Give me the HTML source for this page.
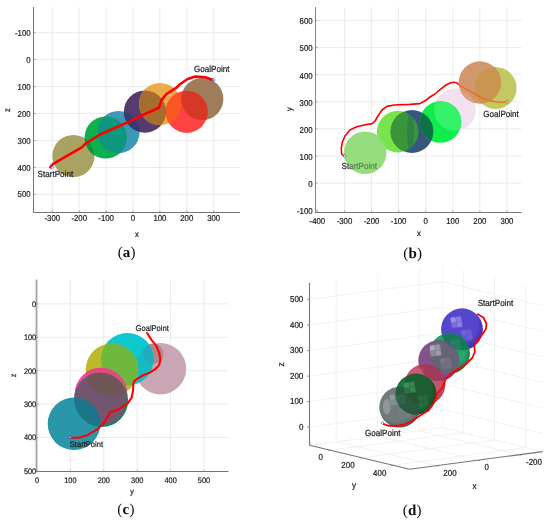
<!DOCTYPE html>
<html lang="en"><head><meta charset="utf-8"><title>Figure</title>
<style>html,body{margin:0;padding:0;background:#fff;}svg{display:block;font-family:"Liberation Sans",sans-serif;text-rendering:geometricPrecision;}</style>
</head><body>
<svg width="550" height="521" viewBox="0 0 550 521">
<defs>
<clipPath id="c1"><circle cx="73.40" cy="156.00" r="21.10"/></clipPath>
<clipPath id="c2"><circle cx="105.70" cy="137.50" r="21.10"/></clipPath>
<clipPath id="c3"><circle cx="118.50" cy="132.10" r="21.10"/></clipPath>
<clipPath id="c4"><circle cx="145.00" cy="111.60" r="21.10"/></clipPath>
<clipPath id="c5"><circle cx="160.00" cy="104.00" r="21.10"/></clipPath>
<clipPath id="c6"><circle cx="202.30" cy="99.00" r="21.10"/></clipPath>
<clipPath id="c7"><circle cx="145.00" cy="111.60" r="21.10"/></clipPath>
<clipPath id="c8"><circle cx="397.70" cy="131.60" r="20.80"/></clipPath>
<clipPath id="c9"><circle cx="397.70" cy="131.60" r="20.80"/></clipPath>
<clipPath id="c10"><circle cx="412.00" cy="131.50" r="21.40" clip-path="url(#c9)"/></clipPath>
<clipPath id="c11"><circle cx="397.70" cy="131.60" r="20.80"/></clipPath>
<clipPath id="c12"><circle cx="412.00" cy="131.50" r="21.40"/></clipPath>
<clipPath id="c13"><circle cx="455.00" cy="109.80" r="21.00"/></clipPath>
<clipPath id="c14"><circle cx="495.60" cy="88.00" r="21.00"/></clipPath>
<clipPath id="c15"><circle cx="455.00" cy="109.80" r="21.00"/></clipPath>
<clipPath id="c16"><circle cx="479.90" cy="82.50" r="21.20"/></clipPath>
<clipPath id="c17"><circle cx="495.60" cy="88.00" r="21.00"/></clipPath>
<clipPath id="c18"><circle cx="365.20" cy="152.80" r="21.30"/></clipPath>
<clipPath id="c19"><circle cx="160.50" cy="368.70" r="25.70"/></clipPath>
<clipPath id="c20"><circle cx="153.20" cy="353.70" r="10.20"/></clipPath>
<clipPath id="c21"><circle cx="127.30" cy="359.20" r="26.30"/></clipPath>
<clipPath id="c22"><circle cx="112.00" cy="369.70" r="26.30"/></clipPath>
<clipPath id="c23"><circle cx="112.00" cy="369.70" r="26.30"/></clipPath>
<clipPath id="c24"><circle cx="100.30" cy="399.00" r="26.30"/></clipPath>
<clipPath id="c25"><circle cx="101.80" cy="400.60" r="26.30"/></clipPath>
<clipPath id="c26"><circle cx="101.00" cy="394.10" r="26.30"/></clipPath>
<filter id="bl" x="-20%" y="-20%" width="140%" height="140%"><feGaussianBlur stdDeviation="0.7"/></filter>
<radialGradient id="g27" cx="0.42" cy="0.38" r="0.64"><stop offset="0" stop-color="rgb(86,68,206)"/><stop offset="0.72" stop-color="rgb(86,68,206)"/><stop offset="1" stop-color="rgb(60,42,172)"/></radialGradient>
<clipPath id="c28"><circle cx="462.00" cy="329.20" r="20.90"/></clipPath>
<clipPath id="c29"><circle cx="462.00" cy="329.20" r="20.90"/></clipPath>
<radialGradient id="g30" cx="0.42" cy="0.38" r="0.64"><stop offset="0" stop-color="rgb(34,164,104)"/><stop offset="0.72" stop-color="rgb(34,164,104)"/><stop offset="1" stop-color="rgb(16,124,78)"/></radialGradient>
<clipPath id="c31"><circle cx="462.00" cy="329.20" r="20.90"/></clipPath>
<clipPath id="c32"><circle cx="449.60" cy="353.50" r="20.30"/></clipPath>
<clipPath id="c33"><circle cx="449.60" cy="353.50" r="20.30"/></clipPath>
<radialGradient id="g34" cx="0.42" cy="0.38" r="0.64"><stop offset="0" stop-color="rgb(132,82,142)"/><stop offset="0.72" stop-color="rgb(132,82,142)"/><stop offset="1" stop-color="rgb(120,72,132)"/></radialGradient>
<clipPath id="c35"><circle cx="449.60" cy="353.50" r="20.30"/></clipPath>
<clipPath id="c36"><circle cx="449.60" cy="353.50" r="20.30"/></clipPath>
<clipPath id="c37"><circle cx="438.80" cy="360.60" r="20.50" clip-path="url(#c36)"/></clipPath>
<clipPath id="c38"><circle cx="449.60" cy="353.50" r="20.30"/></clipPath>
<clipPath id="c39"><circle cx="438.80" cy="360.60" r="20.50" clip-path="url(#c38)"/></clipPath>
<clipPath id="c40"><circle cx="462.00" cy="329.20" r="20.90"/></clipPath>
<radialGradient id="g41" cx="0.42" cy="0.38" r="0.64"><stop offset="0" stop-color="rgb(198,76,102)"/><stop offset="0.72" stop-color="rgb(198,76,102)"/><stop offset="1" stop-color="rgb(172,56,82)"/></radialGradient>
<clipPath id="c42"><circle cx="438.80" cy="360.60" r="20.50"/></clipPath>
<clipPath id="c43"><circle cx="449.60" cy="353.50" r="20.30"/></clipPath>
<clipPath id="c44"><circle cx="425.00" cy="384.30" r="20.40"/></clipPath>
<radialGradient id="g45" cx="0.42" cy="0.38" r="0.64"><stop offset="0" stop-color="rgb(108,118,118)"/><stop offset="0.72" stop-color="rgb(108,118,118)"/><stop offset="1" stop-color="rgb(78,88,88)"/></radialGradient>
<clipPath id="c46"><circle cx="399.70" cy="407.20" r="20.40"/></clipPath>
<clipPath id="c47"><circle cx="399.70" cy="407.20" r="20.40"/></clipPath>
<radialGradient id="g48" cx="0.42" cy="0.38" r="0.64"><stop offset="0" stop-color="rgb(22,112,56)"/><stop offset="0.72" stop-color="rgb(22,112,56)"/><stop offset="1" stop-color="rgb(10,70,36)"/></radialGradient>
<clipPath id="c49"><circle cx="399.70" cy="407.20" r="20.40"/></clipPath>
<clipPath id="c50"><circle cx="425.00" cy="384.30" r="20.40"/></clipPath>
<clipPath id="c51"><circle cx="416.00" cy="394.10" r="20.50"/></clipPath>
<clipPath id="c52"><circle cx="416.00" cy="394.10" r="20.50"/></clipPath>
<clipPath id="c53"><circle cx="399.70" cy="407.20" r="20.40"/></clipPath>
<clipPath id="c54"><circle cx="416.00" cy="394.10" r="20.50" clip-path="url(#c53)"/></clipPath>
<filter id="soft" x="0" y="0" width="100%" height="100%" filterUnits="userSpaceOnUse"><feGaussianBlur stdDeviation="0.32"/></filter>
</defs>
<rect width="550" height="521" fill="#ffffff"/>
<g filter="url(#soft)">
<g id="pa">
<line x1="52.30" y1="7.00" x2="52.30" y2="212.50" stroke="#e6e6e6" stroke-width="0.8" />
<line x1="79.20" y1="7.00" x2="79.20" y2="212.50" stroke="#e6e6e6" stroke-width="0.8" />
<line x1="106.10" y1="7.00" x2="106.10" y2="212.50" stroke="#e6e6e6" stroke-width="0.8" />
<line x1="133.00" y1="7.00" x2="133.00" y2="212.50" stroke="#e6e6e6" stroke-width="0.8" />
<line x1="159.90" y1="7.00" x2="159.90" y2="212.50" stroke="#e6e6e6" stroke-width="0.8" />
<line x1="186.80" y1="7.00" x2="186.80" y2="212.50" stroke="#e6e6e6" stroke-width="0.8" />
<line x1="213.70" y1="7.00" x2="213.70" y2="212.50" stroke="#e6e6e6" stroke-width="0.8" />
<line x1="33.50" y1="32.65" x2="240.00" y2="32.65" stroke="#e6e6e6" stroke-width="0.8" />
<line x1="33.50" y1="59.60" x2="240.00" y2="59.60" stroke="#e6e6e6" stroke-width="0.8" />
<line x1="33.50" y1="86.55" x2="240.00" y2="86.55" stroke="#e6e6e6" stroke-width="0.8" />
<line x1="33.50" y1="113.50" x2="240.00" y2="113.50" stroke="#e6e6e6" stroke-width="0.8" />
<line x1="33.50" y1="140.45" x2="240.00" y2="140.45" stroke="#e6e6e6" stroke-width="0.8" />
<line x1="33.50" y1="167.40" x2="240.00" y2="167.40" stroke="#e6e6e6" stroke-width="0.8" />
<line x1="33.50" y1="194.35" x2="240.00" y2="194.35" stroke="#e6e6e6" stroke-width="0.8" />
<line x1="33.50" y1="7.00" x2="33.50" y2="213.00" stroke="#757575" stroke-width="1.0" />
<line x1="33.00" y1="212.50" x2="240.00" y2="212.50" stroke="#757575" stroke-width="1.0" />
<line x1="52.30" y1="212.50" x2="52.30" y2="210.50" stroke="#757575" stroke-width="0.7" />
<text x="52.30" y="220.70" font-size="8.533000000000001" text-anchor="middle" fill="#1e1e1e" stroke="#1e1e1e" stroke-width="0.22"  textLength="15.63" lengthAdjust="spacingAndGlyphs">-300</text>
<line x1="79.20" y1="212.50" x2="79.20" y2="210.50" stroke="#757575" stroke-width="0.7" />
<text x="79.20" y="220.70" font-size="8.533000000000001" text-anchor="middle" fill="#1e1e1e" stroke="#1e1e1e" stroke-width="0.22"  textLength="15.63" lengthAdjust="spacingAndGlyphs">-200</text>
<line x1="106.10" y1="212.50" x2="106.10" y2="210.50" stroke="#757575" stroke-width="0.7" />
<text x="106.10" y="220.70" font-size="8.533000000000001" text-anchor="middle" fill="#1e1e1e" stroke="#1e1e1e" stroke-width="0.22"  textLength="15.63" lengthAdjust="spacingAndGlyphs">-100</text>
<line x1="133.00" y1="212.50" x2="133.00" y2="210.50" stroke="#757575" stroke-width="0.7" />
<text x="133.00" y="220.70" font-size="8.533000000000001" text-anchor="middle" fill="#1e1e1e" stroke="#1e1e1e" stroke-width="0.22"  textLength="4.34" lengthAdjust="spacingAndGlyphs">0</text>
<line x1="159.90" y1="212.50" x2="159.90" y2="210.50" stroke="#757575" stroke-width="0.7" />
<text x="159.90" y="220.70" font-size="8.533000000000001" text-anchor="middle" fill="#1e1e1e" stroke="#1e1e1e" stroke-width="0.22"  textLength="13.03" lengthAdjust="spacingAndGlyphs">100</text>
<line x1="186.80" y1="212.50" x2="186.80" y2="210.50" stroke="#757575" stroke-width="0.7" />
<text x="186.80" y="220.70" font-size="8.533000000000001" text-anchor="middle" fill="#1e1e1e" stroke="#1e1e1e" stroke-width="0.22"  textLength="13.03" lengthAdjust="spacingAndGlyphs">200</text>
<line x1="213.70" y1="212.50" x2="213.70" y2="210.50" stroke="#757575" stroke-width="0.7" />
<text x="213.70" y="220.70" font-size="8.533000000000001" text-anchor="middle" fill="#1e1e1e" stroke="#1e1e1e" stroke-width="0.22"  textLength="13.03" lengthAdjust="spacingAndGlyphs">300</text>
<line x1="33.50" y1="32.65" x2="35.50" y2="32.65" stroke="#757575" stroke-width="0.7" />
<text x="30.60" y="35.75" font-size="8.533000000000001" text-anchor="end" fill="#1e1e1e" stroke="#1e1e1e" stroke-width="0.22"  textLength="15.63" lengthAdjust="spacingAndGlyphs">-100</text>
<line x1="33.50" y1="59.60" x2="35.50" y2="59.60" stroke="#757575" stroke-width="0.7" />
<text x="30.60" y="62.70" font-size="8.533000000000001" text-anchor="end" fill="#1e1e1e" stroke="#1e1e1e" stroke-width="0.22"  textLength="4.34" lengthAdjust="spacingAndGlyphs">0</text>
<line x1="33.50" y1="86.55" x2="35.50" y2="86.55" stroke="#757575" stroke-width="0.7" />
<text x="30.60" y="89.65" font-size="8.533000000000001" text-anchor="end" fill="#1e1e1e" stroke="#1e1e1e" stroke-width="0.22"  textLength="13.03" lengthAdjust="spacingAndGlyphs">100</text>
<line x1="33.50" y1="113.50" x2="35.50" y2="113.50" stroke="#757575" stroke-width="0.7" />
<text x="30.60" y="116.60" font-size="8.533000000000001" text-anchor="end" fill="#1e1e1e" stroke="#1e1e1e" stroke-width="0.22"  textLength="13.03" lengthAdjust="spacingAndGlyphs">200</text>
<line x1="33.50" y1="140.45" x2="35.50" y2="140.45" stroke="#757575" stroke-width="0.7" />
<text x="30.60" y="143.55" font-size="8.533000000000001" text-anchor="end" fill="#1e1e1e" stroke="#1e1e1e" stroke-width="0.22"  textLength="13.03" lengthAdjust="spacingAndGlyphs">300</text>
<line x1="33.50" y1="167.40" x2="35.50" y2="167.40" stroke="#757575" stroke-width="0.7" />
<text x="30.60" y="170.50" font-size="8.533000000000001" text-anchor="end" fill="#1e1e1e" stroke="#1e1e1e" stroke-width="0.22"  textLength="13.03" lengthAdjust="spacingAndGlyphs">400</text>
<line x1="33.50" y1="194.35" x2="35.50" y2="194.35" stroke="#757575" stroke-width="0.7" />
<text x="30.60" y="197.45" font-size="8.533000000000001" text-anchor="end" fill="#1e1e1e" stroke="#1e1e1e" stroke-width="0.22"  textLength="13.03" lengthAdjust="spacingAndGlyphs">500</text>
<text x="137.00" y="236.91" font-size="8.321000000000002" text-anchor="middle" fill="#1e1e1e" stroke="#1e1e1e" stroke-width="0.22"  textLength="3.81" lengthAdjust="spacingAndGlyphs">x</text>
<text x="8.00" y="110.00" font-size="8.321000000000002" text-anchor="middle" fill="#1e1e1e" stroke="#1e1e1e" stroke-width="0.22" transform="rotate(-90 8.00 110.00)" dy="2.42" textLength="3.81" lengthAdjust="spacingAndGlyphs">z</text>
<circle cx="73.40" cy="156.00" r="21.10" fill="rgb(170,162,98)" fill-opacity="1.0" />
<circle cx="105.70" cy="137.50" r="21.10" fill="rgb(12,176,80)" fill-opacity="1.0" />
<circle cx="105.70" cy="137.50" r="21.10" fill="rgb(10,150,62)" fill-opacity="1.0" clip-path="url(#c1)"/>
<circle cx="118.50" cy="132.10" r="21.10" fill="rgb(62,152,182)" fill-opacity="1.0" />
<circle cx="118.50" cy="132.10" r="21.10" fill="rgb(10,152,125)" fill-opacity="1.0" clip-path="url(#c2)"/>
<circle cx="145.00" cy="111.60" r="21.10" fill="rgb(84,58,110)" fill-opacity="1.0" />
<circle cx="145.00" cy="111.60" r="21.10" fill="rgb(48,62,116)" fill-opacity="1.0" clip-path="url(#c3)"/>
<circle cx="160.00" cy="104.00" r="21.10" fill="rgb(236,170,76)" fill-opacity="1.0" />
<circle cx="160.00" cy="104.00" r="21.10" fill="rgb(165,110,46)" fill-opacity="1.0" clip-path="url(#c4)"/>
<circle cx="202.30" cy="99.00" r="21.10" fill="rgb(160,125,90)" fill-opacity="1.0" />
<circle cx="186.70" cy="111.80" r="21.10" fill="rgb(255,66,66)" fill-opacity="1.0" />
<circle cx="186.70" cy="111.80" r="21.10" fill="rgb(250,88,32)" fill-opacity="1.0" clip-path="url(#c5)"/>
<circle cx="186.70" cy="111.80" r="21.10" fill="rgb(215,56,40)" fill-opacity="1.0" clip-path="url(#c6)"/>
<circle cx="186.70" cy="111.80" r="21.10" fill="rgb(200,50,60)" fill-opacity="1.0" clip-path="url(#c7)"/>
<path d="M50.3,167.3 L52.7,164.2 L81.8,147.3 L85.5,143.6 L100.0,134.5 L129.0,121.8 L140.0,116.4 L145.0,114.0 L158.9,107.8 L161.4,100.3 L166.4,94.0 L176.4,87.7 L180.2,84.0 L187.7,79.0 L195.3,76.6 L205.3,77.2 L212.8,80.0" fill="none" stroke="#ff0000" stroke-width="2.6" stroke-linejoin="round" stroke-linecap="round" />
<circle cx="52.30" cy="167.60" r="1.4" fill="#ffffff" fill-opacity="0.6" stroke="#3344dd" stroke-width="0.6"/>
<circle cx="213.70" cy="79.80" r="1.4" fill="#ffffff" fill-opacity="0.6" stroke="#3344dd" stroke-width="0.6"/>
<text x="37.60" y="177.20" font-size="8.851" text-anchor="start" fill="#1e1e1e" stroke="#1e1e1e" stroke-width="0.22"  textLength="35.57" lengthAdjust="spacingAndGlyphs">StartPoint</text>
<text x="194.00" y="72.00" font-size="8.851" text-anchor="start" fill="#1e1e1e" stroke="#1e1e1e" stroke-width="0.22"  textLength="35.57" lengthAdjust="spacingAndGlyphs">GoalPoint</text>
<text x="126.70" y="257.40" font-family="'Liberation Serif', serif" font-size="15" letter-spacing="0.2" text-anchor="middle" fill="#111">(<tspan font-weight="bold">a</tspan>)</text>
</g>
<g id="pb">
<line x1="344.46" y1="7.00" x2="344.46" y2="212.50" stroke="#e6e6e6" stroke-width="0.8" />
<line x1="371.54" y1="7.00" x2="371.54" y2="212.50" stroke="#e6e6e6" stroke-width="0.8" />
<line x1="398.62" y1="7.00" x2="398.62" y2="212.50" stroke="#e6e6e6" stroke-width="0.8" />
<line x1="425.70" y1="7.00" x2="425.70" y2="212.50" stroke="#e6e6e6" stroke-width="0.8" />
<line x1="452.78" y1="7.00" x2="452.78" y2="212.50" stroke="#e6e6e6" stroke-width="0.8" />
<line x1="479.86" y1="7.00" x2="479.86" y2="212.50" stroke="#e6e6e6" stroke-width="0.8" />
<line x1="506.94" y1="7.00" x2="506.94" y2="212.50" stroke="#e6e6e6" stroke-width="0.8" />
<line x1="315.50" y1="183.10" x2="521.50" y2="183.10" stroke="#e6e6e6" stroke-width="0.8" />
<line x1="315.50" y1="156.00" x2="521.50" y2="156.00" stroke="#e6e6e6" stroke-width="0.8" />
<line x1="315.50" y1="128.90" x2="521.50" y2="128.90" stroke="#e6e6e6" stroke-width="0.8" />
<line x1="315.50" y1="101.80" x2="521.50" y2="101.80" stroke="#e6e6e6" stroke-width="0.8" />
<line x1="315.50" y1="74.70" x2="521.50" y2="74.70" stroke="#e6e6e6" stroke-width="0.8" />
<line x1="315.50" y1="47.60" x2="521.50" y2="47.60" stroke="#e6e6e6" stroke-width="0.8" />
<line x1="315.50" y1="20.50" x2="521.50" y2="20.50" stroke="#e6e6e6" stroke-width="0.8" />
<line x1="315.50" y1="7.00" x2="315.50" y2="213.00" stroke="#858585" stroke-width="1.0" />
<line x1="315.00" y1="212.50" x2="521.50" y2="212.50" stroke="#757575" stroke-width="1.0" />
<line x1="317.38" y1="212.50" x2="317.38" y2="210.50" stroke="#858585" stroke-width="0.7" />
<text x="317.38" y="224.40" font-size="8.533000000000001" text-anchor="middle" fill="#1e1e1e" stroke="#1e1e1e" stroke-width="0.22"  textLength="15.63" lengthAdjust="spacingAndGlyphs">-400</text>
<line x1="344.46" y1="212.50" x2="344.46" y2="210.50" stroke="#858585" stroke-width="0.7" />
<text x="344.46" y="224.40" font-size="8.533000000000001" text-anchor="middle" fill="#1e1e1e" stroke="#1e1e1e" stroke-width="0.22"  textLength="15.63" lengthAdjust="spacingAndGlyphs">-300</text>
<line x1="371.54" y1="212.50" x2="371.54" y2="210.50" stroke="#858585" stroke-width="0.7" />
<text x="371.54" y="224.40" font-size="8.533000000000001" text-anchor="middle" fill="#1e1e1e" stroke="#1e1e1e" stroke-width="0.22"  textLength="15.63" lengthAdjust="spacingAndGlyphs">-200</text>
<line x1="398.62" y1="212.50" x2="398.62" y2="210.50" stroke="#858585" stroke-width="0.7" />
<text x="398.62" y="224.40" font-size="8.533000000000001" text-anchor="middle" fill="#1e1e1e" stroke="#1e1e1e" stroke-width="0.22"  textLength="15.63" lengthAdjust="spacingAndGlyphs">-100</text>
<line x1="425.70" y1="212.50" x2="425.70" y2="210.50" stroke="#858585" stroke-width="0.7" />
<text x="425.70" y="224.40" font-size="8.533000000000001" text-anchor="middle" fill="#1e1e1e" stroke="#1e1e1e" stroke-width="0.22"  textLength="4.34" lengthAdjust="spacingAndGlyphs">0</text>
<line x1="452.78" y1="212.50" x2="452.78" y2="210.50" stroke="#858585" stroke-width="0.7" />
<text x="452.78" y="224.40" font-size="8.533000000000001" text-anchor="middle" fill="#1e1e1e" stroke="#1e1e1e" stroke-width="0.22"  textLength="13.03" lengthAdjust="spacingAndGlyphs">100</text>
<line x1="479.86" y1="212.50" x2="479.86" y2="210.50" stroke="#858585" stroke-width="0.7" />
<text x="479.86" y="224.40" font-size="8.533000000000001" text-anchor="middle" fill="#1e1e1e" stroke="#1e1e1e" stroke-width="0.22"  textLength="13.03" lengthAdjust="spacingAndGlyphs">200</text>
<line x1="506.94" y1="212.50" x2="506.94" y2="210.50" stroke="#858585" stroke-width="0.7" />
<text x="506.94" y="224.40" font-size="8.533000000000001" text-anchor="middle" fill="#1e1e1e" stroke="#1e1e1e" stroke-width="0.22"  textLength="13.03" lengthAdjust="spacingAndGlyphs">300</text>
<line x1="315.50" y1="210.20" x2="317.50" y2="210.20" stroke="#858585" stroke-width="0.7" />
<text x="312.60" y="214.00" font-size="8.533000000000001" text-anchor="end" fill="#1e1e1e" stroke="#1e1e1e" stroke-width="0.22"  textLength="15.63" lengthAdjust="spacingAndGlyphs">-100</text>
<line x1="315.50" y1="183.10" x2="317.50" y2="183.10" stroke="#858585" stroke-width="0.7" />
<text x="312.60" y="186.90" font-size="8.533000000000001" text-anchor="end" fill="#1e1e1e" stroke="#1e1e1e" stroke-width="0.22"  textLength="4.34" lengthAdjust="spacingAndGlyphs">0</text>
<line x1="315.50" y1="156.00" x2="317.50" y2="156.00" stroke="#858585" stroke-width="0.7" />
<text x="312.60" y="159.80" font-size="8.533000000000001" text-anchor="end" fill="#1e1e1e" stroke="#1e1e1e" stroke-width="0.22"  textLength="13.03" lengthAdjust="spacingAndGlyphs">100</text>
<line x1="315.50" y1="128.90" x2="317.50" y2="128.90" stroke="#858585" stroke-width="0.7" />
<text x="312.60" y="132.70" font-size="8.533000000000001" text-anchor="end" fill="#1e1e1e" stroke="#1e1e1e" stroke-width="0.22"  textLength="13.03" lengthAdjust="spacingAndGlyphs">200</text>
<line x1="315.50" y1="101.80" x2="317.50" y2="101.80" stroke="#858585" stroke-width="0.7" />
<text x="312.60" y="105.60" font-size="8.533000000000001" text-anchor="end" fill="#1e1e1e" stroke="#1e1e1e" stroke-width="0.22"  textLength="13.03" lengthAdjust="spacingAndGlyphs">300</text>
<line x1="315.50" y1="74.70" x2="317.50" y2="74.70" stroke="#858585" stroke-width="0.7" />
<text x="312.60" y="78.50" font-size="8.533000000000001" text-anchor="end" fill="#1e1e1e" stroke="#1e1e1e" stroke-width="0.22"  textLength="13.03" lengthAdjust="spacingAndGlyphs">400</text>
<line x1="315.50" y1="47.60" x2="317.50" y2="47.60" stroke="#858585" stroke-width="0.7" />
<text x="312.60" y="51.40" font-size="8.533000000000001" text-anchor="end" fill="#1e1e1e" stroke="#1e1e1e" stroke-width="0.22"  textLength="13.03" lengthAdjust="spacingAndGlyphs">500</text>
<line x1="315.50" y1="20.50" x2="317.50" y2="20.50" stroke="#858585" stroke-width="0.7" />
<text x="312.60" y="24.30" font-size="8.533000000000001" text-anchor="end" fill="#1e1e1e" stroke="#1e1e1e" stroke-width="0.22"  textLength="13.03" lengthAdjust="spacingAndGlyphs">600</text>
<text x="418.90" y="235.91" font-size="8.321000000000002" text-anchor="middle" fill="#1e1e1e" stroke="#1e1e1e" stroke-width="0.22"  textLength="3.81" lengthAdjust="spacingAndGlyphs">x</text>
<text x="290.00" y="109.00" font-size="8.321000000000002" text-anchor="middle" fill="#1e1e1e" stroke="#1e1e1e" stroke-width="0.22" transform="rotate(-90 290.00 109.00)" dy="2.42" textLength="3.81" lengthAdjust="spacingAndGlyphs">y</text>
<path d="M344.0,156.0 L341.6,154.0 L341.3,148.0 L342.4,142.0 L345.0,136.0 L350.0,130.0 L356.0,127.0 L364.0,125.0 L372.0,123.6 L375.0,121.0 L378.0,116.0 L382.0,110.0 L387.0,106.4 L394.0,105.0 L410.0,104.4 L420.0,103.6 L425.0,100.8 L430.0,97.0 L435.0,94.0 L440.0,89.7 L446.0,85.0 L450.0,83.0 L453.9,82.3 L456.4,82.7 L459.6,85.2 L469.5,91.0 L481.0,97.5 L490.7,101.0 L500.5,102.4 L506.3,102.0" fill="none" stroke="#ff0000" stroke-width="1.6" stroke-linejoin="round" stroke-linecap="round" />
<circle cx="397.70" cy="131.60" r="20.80" fill="rgb(120,228,76)" fill-opacity="1.0" />
<circle cx="412.00" cy="131.50" r="21.40" fill="rgb(55,85,125)" fill-opacity="1.0" />
<circle cx="412.00" cy="131.50" r="21.40" fill="rgb(56,150,56)" fill-opacity="1.0" clip-path="url(#c8)"/>
<ellipse cx="410.5" cy="131.5" rx="3.6" ry="19.5" fill="rgb(46,126,76)" fill-opacity="0.85" clip-path="url(#c10)"/>
<circle cx="365.20" cy="152.80" r="21.30" fill="rgb(150,222,125)" fill-opacity="1.0" />
<circle cx="365.20" cy="152.80" r="21.30" fill="rgb(138,224,108)" fill-opacity="1.0" clip-path="url(#c11)"/>
<circle cx="455.00" cy="109.80" r="21.00" fill="rgb(243,224,241)" fill-opacity="1.0" />
<circle cx="440.50" cy="122.00" r="20.80" fill="rgb(12,238,76)" fill-opacity="1.0" />
<circle cx="440.50" cy="122.00" r="20.80" fill="rgb(10,115,70)" fill-opacity="1.0" clip-path="url(#c12)"/>
<circle cx="440.50" cy="122.00" r="20.80" fill="rgb(52,242,106)" fill-opacity="1.0" clip-path="url(#c13)"/>
<circle cx="495.60" cy="88.00" r="21.00" fill="rgb(196,200,100)" fill-opacity="1.0" />
<circle cx="479.90" cy="82.50" r="21.20" fill="rgb(211,151,110)" fill-opacity="1.0" />
<circle cx="479.90" cy="82.50" r="21.20" fill="rgb(200,150,80)" fill-opacity="1.0" clip-path="url(#c14)"/>
<circle cx="479.90" cy="82.50" r="21.20" fill="rgb(215,160,125)" fill-opacity="1.0" clip-path="url(#c15)"/>
<g clip-path="url(#c16)">
<path d="M344.0,156.0 L341.6,154.0 L341.3,148.0 L342.4,142.0 L345.0,136.0 L350.0,130.0 L356.0,127.0 L364.0,125.0 L372.0,123.6 L375.0,121.0 L378.0,116.0 L382.0,110.0 L387.0,106.4 L394.0,105.0 L410.0,104.4 L420.0,103.6 L425.0,100.8 L430.0,97.0 L435.0,94.0 L440.0,89.7 L446.0,85.0 L450.0,83.0 L453.9,82.3 L456.4,82.7 L459.6,85.2 L469.5,91.0 L481.0,97.5 L490.7,101.0 L500.5,102.4 L506.3,102.0" fill="none" stroke="#f06428" stroke-width="1.3" stroke-linejoin="round" stroke-linecap="round" />
</g>
<g clip-path="url(#c17)">
<path d="M344.0,156.0 L341.6,154.0 L341.3,148.0 L342.4,142.0 L345.0,136.0 L350.0,130.0 L356.0,127.0 L364.0,125.0 L372.0,123.6 L375.0,121.0 L378.0,116.0 L382.0,110.0 L387.0,106.4 L394.0,105.0 L410.0,104.4 L420.0,103.6 L425.0,100.8 L430.0,97.0 L435.0,94.0 L440.0,89.7 L446.0,85.0 L450.0,83.0 L453.9,82.3 L456.4,82.7 L459.6,85.2 L469.5,91.0 L481.0,97.5 L490.7,101.0 L500.5,102.4 L506.3,102.0" fill="none" stroke="#f06c20" stroke-width="1.3" stroke-linejoin="round" stroke-linecap="round" />
</g>
<circle cx="344.50" cy="155.80" r="1.4" fill="#ffffff" fill-opacity="0.6" stroke="#3344aa" stroke-width="0.6"/>
<circle cx="507.00" cy="101.70" r="1.3" fill="#ffffff" fill-opacity="0.6" stroke="#6a6a50" stroke-width="0.6"/>
<text x="341.50" y="169.40" font-size="8.851" text-anchor="start" fill="#1e1e1e" stroke="#1e1e1e" stroke-width="0.22"  textLength="35.57" lengthAdjust="spacingAndGlyphs">StartPoint</text>
<rect x="340" y="161" width="40" height="11" fill="rgb(150,222,125)" fill-opacity="0.5" clip-path="url(#c18)"/>
<text x="483.30" y="116.70" font-size="8.851" text-anchor="start" fill="#1e1e1e" stroke="#1e1e1e" stroke-width="0.22"  textLength="35.57" lengthAdjust="spacingAndGlyphs">GoalPoint</text>
<text x="412.80" y="257.60" font-family="'Liberation Serif', serif" font-size="15" letter-spacing="0.2" text-anchor="middle" fill="#111">(<tspan font-weight="bold">b</tspan>)</text>
</g>
<g id="pc">
<line x1="70.40" y1="279.50" x2="70.40" y2="471.50" stroke="#e6e6e6" stroke-width="0.8" />
<line x1="103.80" y1="279.50" x2="103.80" y2="471.50" stroke="#e6e6e6" stroke-width="0.8" />
<line x1="137.20" y1="279.50" x2="137.20" y2="471.50" stroke="#e6e6e6" stroke-width="0.8" />
<line x1="170.60" y1="279.50" x2="170.60" y2="471.50" stroke="#e6e6e6" stroke-width="0.8" />
<line x1="204.00" y1="279.50" x2="204.00" y2="471.50" stroke="#e6e6e6" stroke-width="0.8" />
<line x1="36.50" y1="303.90" x2="228.50" y2="303.90" stroke="#e6e6e6" stroke-width="0.8" />
<line x1="36.50" y1="337.30" x2="228.50" y2="337.30" stroke="#e6e6e6" stroke-width="0.8" />
<line x1="36.50" y1="370.70" x2="228.50" y2="370.70" stroke="#e6e6e6" stroke-width="0.8" />
<line x1="36.50" y1="404.10" x2="228.50" y2="404.10" stroke="#e6e6e6" stroke-width="0.8" />
<line x1="36.50" y1="437.50" x2="228.50" y2="437.50" stroke="#e6e6e6" stroke-width="0.8" />
<line x1="36.50" y1="279.50" x2="36.50" y2="472.40" stroke="#a4a4a4" stroke-width="1.8" />
<line x1="35.60" y1="471.50" x2="228.50" y2="471.50" stroke="#757575" stroke-width="1.0" />
<line x1="37.00" y1="471.50" x2="37.00" y2="469.50" stroke="#a4a4a4" stroke-width="0.7" />
<text x="37.00" y="483.04" font-size="8.056" text-anchor="middle" fill="#1e1e1e" stroke="#1e1e1e" stroke-width="0.22"  textLength="4.10" lengthAdjust="spacingAndGlyphs">0</text>
<line x1="70.40" y1="471.50" x2="70.40" y2="469.50" stroke="#a4a4a4" stroke-width="0.7" />
<text x="70.40" y="483.04" font-size="8.056" text-anchor="middle" fill="#1e1e1e" stroke="#1e1e1e" stroke-width="0.22"  textLength="12.30" lengthAdjust="spacingAndGlyphs">100</text>
<line x1="103.80" y1="471.50" x2="103.80" y2="469.50" stroke="#a4a4a4" stroke-width="0.7" />
<text x="103.80" y="483.04" font-size="8.056" text-anchor="middle" fill="#1e1e1e" stroke="#1e1e1e" stroke-width="0.22"  textLength="12.30" lengthAdjust="spacingAndGlyphs">200</text>
<line x1="137.20" y1="471.50" x2="137.20" y2="469.50" stroke="#a4a4a4" stroke-width="0.7" />
<text x="137.20" y="483.04" font-size="8.056" text-anchor="middle" fill="#1e1e1e" stroke="#1e1e1e" stroke-width="0.22"  textLength="12.30" lengthAdjust="spacingAndGlyphs">300</text>
<line x1="170.60" y1="471.50" x2="170.60" y2="469.50" stroke="#a4a4a4" stroke-width="0.7" />
<text x="170.60" y="483.04" font-size="8.056" text-anchor="middle" fill="#1e1e1e" stroke="#1e1e1e" stroke-width="0.22"  textLength="12.30" lengthAdjust="spacingAndGlyphs">400</text>
<line x1="204.00" y1="471.50" x2="204.00" y2="469.50" stroke="#a4a4a4" stroke-width="0.7" />
<text x="204.00" y="483.04" font-size="8.056" text-anchor="middle" fill="#1e1e1e" stroke="#1e1e1e" stroke-width="0.22"  textLength="12.30" lengthAdjust="spacingAndGlyphs">500</text>
<line x1="36.50" y1="303.90" x2="38.50" y2="303.90" stroke="#a4a4a4" stroke-width="0.7" />
<text x="36.20" y="306.84" font-size="8.056" text-anchor="end" fill="#1e1e1e" stroke="#1e1e1e" stroke-width="0.22"  textLength="4.10" lengthAdjust="spacingAndGlyphs">0</text>
<line x1="36.50" y1="337.30" x2="38.50" y2="337.30" stroke="#a4a4a4" stroke-width="0.7" />
<text x="36.20" y="340.24" font-size="8.056" text-anchor="end" fill="#1e1e1e" stroke="#1e1e1e" stroke-width="0.22"  textLength="12.30" lengthAdjust="spacingAndGlyphs">100</text>
<line x1="36.50" y1="370.70" x2="38.50" y2="370.70" stroke="#a4a4a4" stroke-width="0.7" />
<text x="36.20" y="373.64" font-size="8.056" text-anchor="end" fill="#1e1e1e" stroke="#1e1e1e" stroke-width="0.22"  textLength="12.30" lengthAdjust="spacingAndGlyphs">200</text>
<line x1="36.50" y1="404.10" x2="38.50" y2="404.10" stroke="#a4a4a4" stroke-width="0.7" />
<text x="36.20" y="407.04" font-size="8.056" text-anchor="end" fill="#1e1e1e" stroke="#1e1e1e" stroke-width="0.22"  textLength="12.30" lengthAdjust="spacingAndGlyphs">300</text>
<line x1="36.50" y1="437.50" x2="38.50" y2="437.50" stroke="#a4a4a4" stroke-width="0.7" />
<text x="36.20" y="440.44" font-size="8.056" text-anchor="end" fill="#1e1e1e" stroke="#1e1e1e" stroke-width="0.22"  textLength="12.30" lengthAdjust="spacingAndGlyphs">400</text>
<line x1="36.50" y1="470.90" x2="38.50" y2="470.90" stroke="#a4a4a4" stroke-width="0.7" />
<text x="36.20" y="473.84" font-size="8.056" text-anchor="end" fill="#1e1e1e" stroke="#1e1e1e" stroke-width="0.22"  textLength="12.30" lengthAdjust="spacingAndGlyphs">500</text>
<text x="132.00" y="493.78" font-size="7.843999999999999" text-anchor="middle" fill="#1e1e1e" stroke="#1e1e1e" stroke-width="0.22"  textLength="3.59" lengthAdjust="spacingAndGlyphs">y</text>
<text x="13.80" y="375.40" font-size="7.843999999999999" text-anchor="middle" fill="#1e1e1e" stroke="#1e1e1e" stroke-width="0.22" transform="rotate(-90 13.80 375.40)" dy="2.28" textLength="3.59" lengthAdjust="spacingAndGlyphs">z</text>
<circle cx="160.50" cy="368.70" r="25.70" fill="rgb(200,166,180)" fill-opacity="1.0" />
<circle cx="153.20" cy="353.70" r="10.20" fill="rgb(176,136,138)" fill-opacity="1.0" />
<circle cx="127.30" cy="359.20" r="26.30" fill="rgb(12,200,206)" fill-opacity="1.0" />
<circle cx="127.30" cy="359.20" r="26.30" fill="rgb(22,186,196)" fill-opacity="1.0" clip-path="url(#c19)"/>
<circle cx="127.30" cy="359.20" r="26.30" fill="rgb(34,172,186)" fill-opacity="1.0" clip-path="url(#c20)"/>
<circle cx="112.00" cy="369.70" r="26.30" fill="rgb(186,186,42)" fill-opacity="1.0" />
<circle cx="112.00" cy="369.70" r="26.30" fill="rgb(110,185,62)" fill-opacity="1.0" clip-path="url(#c21)"/>
<circle cx="101.00" cy="394.10" r="26.30" fill="rgb(240,74,164)" fill-opacity="1.0" />
<circle cx="101.00" cy="394.10" r="26.30" fill="rgb(226,72,128)" fill-opacity="1.0" clip-path="url(#c22)"/>
<circle cx="101.80" cy="400.60" r="26.30" fill="rgb(30,130,94)" fill-opacity="1.0" />
<circle cx="100.30" cy="399.00" r="26.30" fill="rgb(114,84,110)" fill-opacity="1.0" />
<circle cx="100.30" cy="399.00" r="26.30" fill="rgb(110,86,84)" fill-opacity="1.0" clip-path="url(#c23)"/>
<circle cx="74.00" cy="423.80" r="26.30" fill="rgb(44,150,170)" fill-opacity="1.0" />
<circle cx="74.00" cy="423.80" r="26.30" fill="rgb(28,116,138)" fill-opacity="1.0" clip-path="url(#c24)"/>
<circle cx="74.00" cy="423.80" r="26.30" fill="rgb(26,120,132)" fill-opacity="1.0" clip-path="url(#c25)"/>
<circle cx="74.00" cy="423.80" r="26.30" fill="rgb(28,116,138)" fill-opacity="1.0" clip-path="url(#c26)"/>
<path d="M69.8,437.7 L78.4,437.7 L88.0,434.9 L97.6,429.1 L104.3,422.4 L108.1,415.7 L110.0,412.2 L116.8,410.3 L122.1,407.2 L128.1,402.9 L131.6,397.7 L133.0,391.0 L133.4,383.0 L134.8,380.6 L137.6,378.7 L142.8,375.3 L149.7,372.7 L155.3,369.2 L159.2,364.9 L160.4,359.7 L159.2,352.8 L156.3,345.9 L151.5,339.9 L147.1,333.0" fill="none" stroke="#ff0000" stroke-width="2.1" stroke-linejoin="round" stroke-linecap="round" />
<circle cx="70.20" cy="437.20" r="1.3" fill="#ffffff" fill-opacity="0.6" stroke="#2233cc" stroke-width="0.6"/>
<text x="69.80" y="446.70" font-size="8.268" text-anchor="start" fill="#1e1e1e" stroke="#1e1e1e" stroke-width="0.22"  textLength="33.22" lengthAdjust="spacingAndGlyphs">StartPoint</text>
<text x="135.60" y="330.70" font-size="8.268" text-anchor="start" fill="#1e1e1e" stroke="#1e1e1e" stroke-width="0.22"  textLength="33.23" lengthAdjust="spacingAndGlyphs">GoalPoint</text>
<text x="126.00" y="514.00" font-family="'Liberation Serif', serif" font-size="15" letter-spacing="0.2" text-anchor="middle" fill="#111">(<tspan font-weight="bold">c</tspan>)</text>
</g>
<g id="pd">
<polyline points="309.5,427.0 442.4,409.3 542.6,433.3" fill="none" stroke="#eeeeee" stroke-width="0.8"/>
<polyline points="309.5,401.6 442.4,383.9 542.6,407.9" fill="none" stroke="#eeeeee" stroke-width="0.8"/>
<polyline points="309.5,376.1 442.4,358.4 542.6,382.4" fill="none" stroke="#eeeeee" stroke-width="0.8"/>
<polyline points="309.5,350.6 442.4,332.9 542.6,356.9" fill="none" stroke="#eeeeee" stroke-width="0.8"/>
<polyline points="309.5,325.0 442.4,307.3 542.6,331.3" fill="none" stroke="#eeeeee" stroke-width="0.8"/>
<polyline points="309.5,299.4 442.4,281.7 542.6,305.7" fill="none" stroke="#eeeeee" stroke-width="0.8"/>
<polyline points="309.5,445.3 442.4,427.6 542.6,451.6" fill="none" stroke="#eeeeee" stroke-width="0.8"/>
<line x1="442.40" y1="427.60" x2="442.40" y2="265.30" stroke="#f3f3f3" stroke-width="0.8" />
<line x1="436.40" y1="465.70" x2="336.20" y2="441.70" stroke="#eeeeee" stroke-width="0.8" />
<line x1="336.20" y1="441.70" x2="336.20" y2="279.40" stroke="#eeeeee" stroke-width="0.8" />
<line x1="477.90" y1="460.20" x2="377.70" y2="436.20" stroke="#eeeeee" stroke-width="0.8" />
<line x1="377.70" y1="436.20" x2="377.70" y2="273.90" stroke="#eeeeee" stroke-width="0.8" />
<line x1="519.40" y1="454.70" x2="419.20" y2="430.70" stroke="#eeeeee" stroke-width="0.8" />
<line x1="419.20" y1="430.70" x2="419.20" y2="268.40" stroke="#eeeeee" stroke-width="0.8" />
<line x1="330.30" y1="450.20" x2="463.20" y2="432.50" stroke="#eeeeee" stroke-width="0.8" />
<line x1="463.20" y1="432.50" x2="463.20" y2="270.20" stroke="#eeeeee" stroke-width="0.8" />
<line x1="361.60" y1="457.80" x2="494.50" y2="440.10" stroke="#eeeeee" stroke-width="0.8" />
<line x1="494.50" y1="440.10" x2="494.50" y2="277.80" stroke="#eeeeee" stroke-width="0.8" />
<line x1="392.60" y1="465.20" x2="525.50" y2="447.50" stroke="#eeeeee" stroke-width="0.8" />
<line x1="525.50" y1="447.50" x2="525.50" y2="285.20" stroke="#eeeeee" stroke-width="0.8" />
<line x1="309.50" y1="283.00" x2="309.50" y2="445.30" stroke="#757575" stroke-width="1.1" />
<line x1="309.50" y1="445.30" x2="409.70" y2="469.30" stroke="#757575" stroke-width="1.1" />
<line x1="409.70" y1="469.30" x2="542.60" y2="451.60" stroke="#757575" stroke-width="1.1" />
<line x1="309.50" y1="427.00" x2="307.00" y2="427.00" stroke="#757575" stroke-width="0.7" />
<text x="303.30" y="429.80" font-size="8.692" text-anchor="end" fill="#1e1e1e" stroke="#1e1e1e" stroke-width="0.22"  textLength="4.42" lengthAdjust="spacingAndGlyphs">0</text>
<line x1="309.50" y1="401.60" x2="307.00" y2="401.60" stroke="#757575" stroke-width="0.7" />
<text x="303.30" y="404.40" font-size="8.692" text-anchor="end" fill="#1e1e1e" stroke="#1e1e1e" stroke-width="0.22"  textLength="13.27" lengthAdjust="spacingAndGlyphs">100</text>
<line x1="309.50" y1="376.10" x2="307.00" y2="376.10" stroke="#757575" stroke-width="0.7" />
<text x="303.30" y="378.90" font-size="8.692" text-anchor="end" fill="#1e1e1e" stroke="#1e1e1e" stroke-width="0.22"  textLength="13.27" lengthAdjust="spacingAndGlyphs">200</text>
<line x1="309.50" y1="350.60" x2="307.00" y2="350.60" stroke="#757575" stroke-width="0.7" />
<text x="303.30" y="353.40" font-size="8.692" text-anchor="end" fill="#1e1e1e" stroke="#1e1e1e" stroke-width="0.22"  textLength="13.27" lengthAdjust="spacingAndGlyphs">300</text>
<line x1="309.50" y1="325.00" x2="307.00" y2="325.00" stroke="#757575" stroke-width="0.7" />
<text x="303.30" y="327.80" font-size="8.692" text-anchor="end" fill="#1e1e1e" stroke="#1e1e1e" stroke-width="0.22"  textLength="13.27" lengthAdjust="spacingAndGlyphs">400</text>
<line x1="309.50" y1="299.40" x2="307.00" y2="299.40" stroke="#757575" stroke-width="0.7" />
<text x="303.30" y="302.20" font-size="8.692" text-anchor="end" fill="#1e1e1e" stroke="#1e1e1e" stroke-width="0.22"  textLength="13.27" lengthAdjust="spacingAndGlyphs">500</text>
<line x1="436.40" y1="465.70" x2="438.40" y2="466.20" stroke="#757575" stroke-width="0.7" />
<line x1="477.90" y1="460.20" x2="479.90" y2="460.70" stroke="#757575" stroke-width="0.7" />
<line x1="519.40" y1="454.70" x2="521.40" y2="455.20" stroke="#757575" stroke-width="0.7" />
<line x1="330.30" y1="450.20" x2="328.30" y2="450.50" stroke="#757575" stroke-width="0.7" />
<line x1="361.60" y1="457.80" x2="359.60" y2="458.10" stroke="#757575" stroke-width="0.7" />
<line x1="392.60" y1="465.20" x2="390.60" y2="465.50" stroke="#757575" stroke-width="0.7" />
<text x="320.60" y="460.10" font-size="8.692" text-anchor="middle" fill="#1e1e1e" stroke="#1e1e1e" stroke-width="0.22"  textLength="4.42" lengthAdjust="spacingAndGlyphs">0</text>
<text x="348.00" y="467.80" font-size="8.692" text-anchor="middle" fill="#1e1e1e" stroke="#1e1e1e" stroke-width="0.22"  textLength="13.27" lengthAdjust="spacingAndGlyphs">200</text>
<text x="379.70" y="475.80" font-size="8.692" text-anchor="middle" fill="#1e1e1e" stroke="#1e1e1e" stroke-width="0.22"  textLength="13.27" lengthAdjust="spacingAndGlyphs">400</text>
<text x="450.00" y="476.40" font-size="8.692" text-anchor="middle" fill="#1e1e1e" stroke="#1e1e1e" stroke-width="0.22"  textLength="13.27" lengthAdjust="spacingAndGlyphs">200</text>
<text x="486.70" y="470.40" font-size="8.692" text-anchor="middle" fill="#1e1e1e" stroke="#1e1e1e" stroke-width="0.22"  textLength="4.42" lengthAdjust="spacingAndGlyphs">0</text>
<text x="534.00" y="464.80" font-size="8.692" text-anchor="middle" fill="#1e1e1e" stroke="#1e1e1e" stroke-width="0.22"  textLength="15.92" lengthAdjust="spacingAndGlyphs">-200</text>
<text x="354.00" y="487.50" font-size="8.798000000000002" text-anchor="middle" fill="#1e1e1e" stroke="#1e1e1e" stroke-width="0.22"  textLength="4.03" lengthAdjust="spacingAndGlyphs">y</text>
<text x="474.50" y="489.30" font-size="8.798000000000002" text-anchor="middle" fill="#1e1e1e" stroke="#1e1e1e" stroke-width="0.22"  textLength="4.03" lengthAdjust="spacingAndGlyphs">x</text>
<text x="281.50" y="364.50" font-size="8.798000000000002" text-anchor="middle" fill="#1e1e1e" stroke="#1e1e1e" stroke-width="0.22" transform="rotate(-90 281.5 364.5)" dy="2.4" textLength="4.03" lengthAdjust="spacingAndGlyphs">z</text>
<circle cx="462.00" cy="329.20" r="20.90" fill="url(#g27)" fill-opacity="1.0"/>
<g filter="url(#bl)" clip-path="url(#c28)" transform="rotate(-9 456.6 322.3)">
<rect x="451.1" y="316.8" width="5.2" height="5.2" fill="rgb(165,155,232)" fill-opacity="0.88"/>
<rect x="456.6" y="316.8" width="5.2" height="5.2" fill="rgb(165,155,232)" fill-opacity="0.64"/>
<rect x="451.1" y="322.3" width="5.2" height="5.2" fill="rgb(165,155,232)" fill-opacity="0.48"/>
<rect x="456.6" y="322.3" width="5.2" height="5.2" fill="rgb(165,155,232)" fill-opacity="0.72"/>
</g>
<g filter="url(#bl)" clip-path="url(#c29)" transform="rotate(-9 467.0 335.2)">
<rect x="461.5" y="329.7" width="5.2" height="5.2" fill="rgb(130,116,222)" fill-opacity="0.66"/>
<rect x="467.0" y="329.7" width="5.2" height="5.2" fill="rgb(130,116,222)" fill-opacity="0.48"/>
<rect x="461.5" y="335.2" width="5.2" height="5.2" fill="rgb(130,116,222)" fill-opacity="0.36"/>
<rect x="467.0" y="335.2" width="5.2" height="5.2" fill="rgb(130,116,222)" fill-opacity="0.54"/>
</g>
<circle cx="449.60" cy="353.50" r="20.30" fill="url(#g30)" fill-opacity="1.0"/>
<circle cx="449.60" cy="353.50" r="20.30" fill="rgb(22,116,84)" fill-opacity="0.92" clip-path="url(#c31)"/>
<g filter="url(#bl)" clip-path="url(#c32)" transform="rotate(-9 456.0 344.5)">
<rect x="450.9" y="339.4" width="4.8" height="4.8" fill="rgb(60,150,120)" fill-opacity="0.39"/>
<rect x="456.0" y="339.4" width="4.8" height="4.8" fill="rgb(60,150,120)" fill-opacity="0.28"/>
<rect x="450.9" y="344.5" width="4.8" height="4.8" fill="rgb(60,150,120)" fill-opacity="0.21"/>
<rect x="456.0" y="344.5" width="4.8" height="4.8" fill="rgb(60,150,120)" fill-opacity="0.32"/>
</g>
<g filter="url(#bl)" clip-path="url(#c33)" transform="rotate(-9 461.5 358.0)">
<rect x="456.4" y="352.9" width="4.8" height="4.8" fill="rgb(70,190,130)" fill-opacity="0.28"/>
<rect x="461.5" y="352.9" width="4.8" height="4.8" fill="rgb(70,190,130)" fill-opacity="0.20"/>
<rect x="456.4" y="358.0" width="4.8" height="4.8" fill="rgb(70,190,130)" fill-opacity="0.15"/>
<rect x="461.5" y="358.0" width="4.8" height="4.8" fill="rgb(70,190,130)" fill-opacity="0.23"/>
</g>
<circle cx="438.80" cy="360.60" r="20.50" fill="url(#g34)" fill-opacity="1.0"/>
<circle cx="438.80" cy="360.60" r="20.50" fill="rgb(100,100,116)" fill-opacity="0.97" clip-path="url(#c35)"/>
<g filter="url(#bl)" clip-path="url(#c37)" transform="rotate(-9 435.3 350.5)">
<rect x="429.6" y="344.8" width="5.4" height="5.4" fill="rgb(176,176,186)" fill-opacity="0.94"/>
<rect x="435.3" y="344.8" width="5.4" height="5.4" fill="rgb(176,176,186)" fill-opacity="0.68"/>
<rect x="429.6" y="350.5" width="5.4" height="5.4" fill="rgb(176,176,186)" fill-opacity="0.51"/>
<rect x="435.3" y="350.5" width="5.4" height="5.4" fill="rgb(176,176,186)" fill-opacity="0.77"/>
</g>
<g filter="url(#bl)" clip-path="url(#c39)" transform="rotate(-9 446.0 363.5)">
<rect x="440.5" y="358.0" width="5.2" height="5.2" fill="rgb(130,130,146)" fill-opacity="0.66"/>
<rect x="446.0" y="358.0" width="5.2" height="5.2" fill="rgb(130,130,146)" fill-opacity="0.48"/>
<rect x="440.5" y="363.5" width="5.2" height="5.2" fill="rgb(130,130,146)" fill-opacity="0.36"/>
<rect x="446.0" y="363.5" width="5.2" height="5.2" fill="rgb(130,130,146)" fill-opacity="0.54"/>
</g>
<circle cx="438.80" cy="360.60" r="20.50" fill="rgb(92,84,130)" fill-opacity="0.9" clip-path="url(#c40)"/>
<circle cx="425.00" cy="384.30" r="20.40" fill="url(#g41)" fill-opacity="0.96"/>
<circle cx="425.00" cy="384.30" r="20.40" fill="rgb(156,58,92)" fill-opacity="0.9" clip-path="url(#c42)"/>
<circle cx="425.00" cy="384.30" r="20.40" fill="rgb(120,70,80)" fill-opacity="0.6" clip-path="url(#c43)"/>
<g filter="url(#bl)" clip-path="url(#c44)" transform="rotate(-9 419.0 373.5)">
<rect x="413.9" y="368.4" width="4.8" height="4.8" fill="rgb(214,100,124)" fill-opacity="0.50"/>
<rect x="419.0" y="368.4" width="4.8" height="4.8" fill="rgb(214,100,124)" fill-opacity="0.36"/>
<rect x="413.9" y="373.5" width="4.8" height="4.8" fill="rgb(214,100,124)" fill-opacity="0.27"/>
<rect x="419.0" y="373.5" width="4.8" height="4.8" fill="rgb(214,100,124)" fill-opacity="0.41"/>
</g>
<circle cx="399.70" cy="407.20" r="20.40" fill="url(#g45)" fill-opacity="0.97"/>
<ellipse cx="386.8" cy="406.8" rx="3.8" ry="7.8" fill="rgb(150,156,156)" fill-opacity="0.85" filter="url(#bl)"/>
<g filter="url(#bl)" clip-path="url(#c46)" transform="rotate(-9 395.6 399.8)">
<rect x="390.1" y="394.3" width="5.2" height="5.2" fill="rgb(150,160,160)" fill-opacity="0.88"/>
<rect x="395.6" y="394.3" width="5.2" height="5.2" fill="rgb(150,160,160)" fill-opacity="0.64"/>
<rect x="390.1" y="399.8" width="5.2" height="5.2" fill="rgb(150,160,160)" fill-opacity="0.48"/>
<rect x="395.6" y="399.8" width="5.2" height="5.2" fill="rgb(150,160,160)" fill-opacity="0.72"/>
</g>
<g filter="url(#bl)" clip-path="url(#c47)" transform="rotate(-9 404.5 413.5)">
<rect x="399.0" y="408.0" width="5.2" height="5.2" fill="rgb(120,130,130)" fill-opacity="0.55"/>
<rect x="404.5" y="408.0" width="5.2" height="5.2" fill="rgb(120,130,130)" fill-opacity="0.40"/>
<rect x="399.0" y="413.5" width="5.2" height="5.2" fill="rgb(120,130,130)" fill-opacity="0.30"/>
<rect x="404.5" y="413.5" width="5.2" height="5.2" fill="rgb(120,130,130)" fill-opacity="0.45"/>
</g>
<circle cx="416.00" cy="394.10" r="20.50" fill="url(#g48)" fill-opacity="0.97"/>
<circle cx="416.00" cy="394.10" r="20.50" fill="rgb(44,88,62)" fill-opacity="0.8" clip-path="url(#c49)"/>
<circle cx="416.00" cy="394.10" r="20.50" fill="rgb(36,62,38)" fill-opacity="0.35" clip-path="url(#c50)"/>
<g filter="url(#bl)" clip-path="url(#c51)" transform="rotate(-9 409.8 387.6)">
<rect x="404.3" y="382.1" width="5.2" height="5.2" fill="rgb(70,150,100)" fill-opacity="0.88"/>
<rect x="409.8" y="382.1" width="5.2" height="5.2" fill="rgb(70,150,100)" fill-opacity="0.64"/>
<rect x="404.3" y="387.6" width="5.2" height="5.2" fill="rgb(70,150,100)" fill-opacity="0.48"/>
<rect x="409.8" y="387.6" width="5.2" height="5.2" fill="rgb(70,150,100)" fill-opacity="0.72"/>
</g>
<g filter="url(#bl)" clip-path="url(#c52)" transform="rotate(-9 423.5 400.5)">
<rect x="418.4" y="395.4" width="4.8" height="4.8" fill="rgb(50,120,76)" fill-opacity="0.61"/>
<rect x="423.5" y="395.4" width="4.8" height="4.8" fill="rgb(50,120,76)" fill-opacity="0.44"/>
<rect x="418.4" y="400.5" width="4.8" height="4.8" fill="rgb(50,120,76)" fill-opacity="0.33"/>
<rect x="423.5" y="400.5" width="4.8" height="4.8" fill="rgb(50,120,76)" fill-opacity="0.50"/>
</g>
<g filter="url(#bl)" clip-path="url(#c54)" transform="rotate(-9 400.5 400.0)">
<rect x="395.4" y="394.9" width="4.8" height="4.8" fill="rgb(80,110,96)" fill-opacity="0.55"/>
<rect x="400.5" y="394.9" width="4.8" height="4.8" fill="rgb(80,110,96)" fill-opacity="0.40"/>
<rect x="395.4" y="400.0" width="4.8" height="4.8" fill="rgb(80,110,96)" fill-opacity="0.30"/>
<rect x="400.5" y="400.0" width="4.8" height="4.8" fill="rgb(80,110,96)" fill-opacity="0.45"/>
</g>
<path d="M383.8,424.1 L387.3,425.5 L394.2,426.2 L402.8,425.0 L411.5,421.5 L420.1,415.5 L428.7,410.3 L434.8,401.6 L436.5,394.7 L441.7,388.7 L443.7,385.0 L445.4,379.6 L448.9,375.3 L453.2,371.9 L461.0,367.6 L467.0,363.2 L472.2,358.0 L474.8,352.0 L474.3,345.1 L478.2,339.9 L482.6,333.9 L486.0,328.7 L486.4,323.5 L483.4,317.5 L477.7,314.3" fill="none" stroke="#ff0000" stroke-width="1.8" stroke-linejoin="round" stroke-linecap="round" />
<circle cx="382.60" cy="422.90" r="1.3" fill="#ffffff" fill-opacity="0.6" stroke="#4433bb" stroke-width="0.6"/>
<text x="365.00" y="436.40" font-size="8.851" text-anchor="start" fill="#1e1e1e" stroke="#1e1e1e" stroke-width="0.22"  textLength="35.57" lengthAdjust="spacingAndGlyphs">GoalPoint</text>
<text x="477.70" y="306.20" font-size="8.851" text-anchor="start" fill="#1e1e1e" stroke="#1e1e1e" stroke-width="0.22"  textLength="35.57" lengthAdjust="spacingAndGlyphs">StartPoint</text>
<text x="412.30" y="514.50" font-family="'Liberation Serif', serif" font-size="15" letter-spacing="0.2" text-anchor="middle" fill="#111">(<tspan font-weight="bold">d</tspan>)</text>
</g>
</g>
</svg></body></html>
